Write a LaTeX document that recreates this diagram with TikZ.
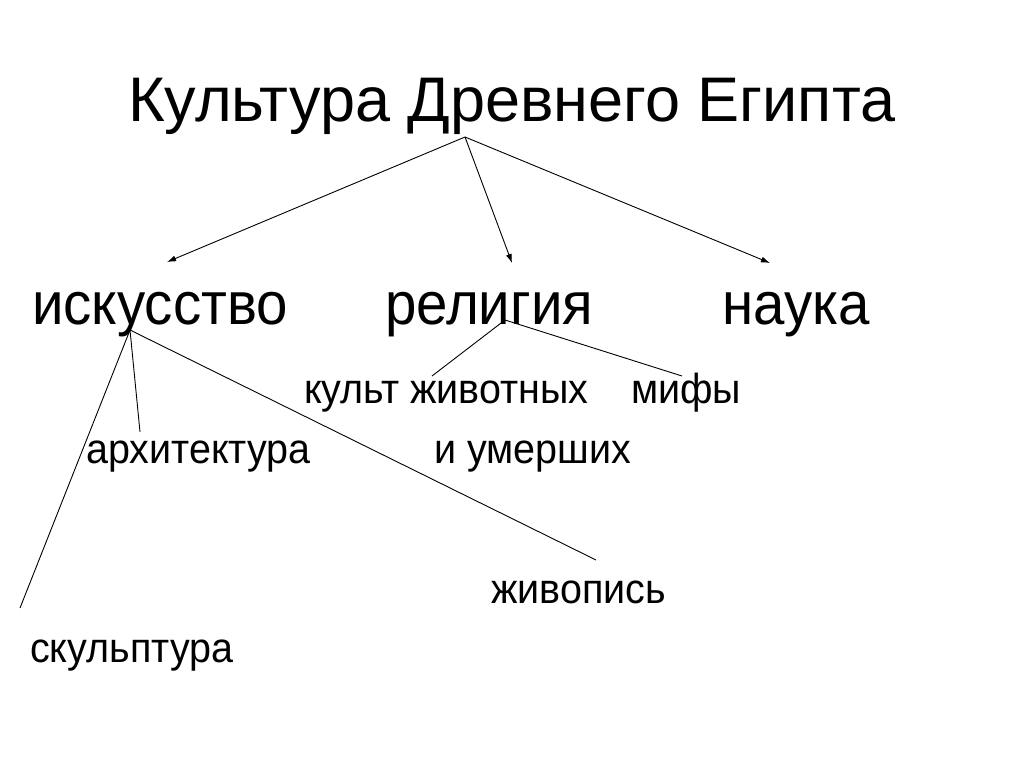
\documentclass[tikz,border=0pt]{standalone}
\usepackage{fontspec}
\setmainfont{Liberation Sans}
\newfontfamily\narrowsans[FakeStretch=0.94]{Liberation Sans}
\usetikzlibrary{arrows.meta}
\begin{document}
\begin{tikzpicture}[x=1pt,y=-1pt]
 \tikzset{directed/.style={-{Latex[length=9pt,width=6pt]}}}
 \tikzset{word/.style={anchor=base west, inner sep=0pt}}
 \tikzset{bigword/.style={word, font=\narrowsans\fontsize{60}{66}\selectfont}}
 \tikzset{smallword/.style={word, font=\narrowsans\fontsize{42}{48}\selectfont}}
  \useasboundingbox (0,0) rectangle (1024,768);
  \node[word, font=\fontsize{63}{70}\selectfont] (title) at (128,121) {Культура Древнего Египта};
  \node[bigword] (art) at (32,324) {искусство};
  \node[bigword] (rel) at (385,324) {религия};
  \node[bigword] (sci) at (722,324) {наука};
  \node[smallword] (cult) at (304,403) {культ животных};
  \node[smallword] (cult2) at (434,463) {и умерших};
  \node[smallword] (myth) at (631,403) {мифы};
  \node[smallword] (arch) at (86,463) {архитектура};
  \node[smallword] (paint) at (491,603) {живопись};
  \node[smallword] (sculp) at (30,662) {скульптура};
  % line ends
  \coordinate (T) at (465,137);
  \coordinate (A) at (130,330);
  \coordinate (R) at (505,320);
  \coordinate (artT) at (167,262);
  \coordinate (relT) at (512,263);
  \coordinate (sciT) at (770,263);
  \coordinate (archT) at (140,432);
  \coordinate (sculpT) at (20,608);
  \coordinate (paintT) at (596,560);
  \coordinate (cultT) at (432,376);
  \coordinate (mythT) at (682,376);
  \draw[directed, line width=0.9pt] (T) -- (artT);
  \draw[directed, line width=0.9pt] (T) -- (relT);
  \draw[directed, line width=0.9pt] (T) -- (sciT);
  \draw[line width=0.9pt] (A) -- (archT);
  \draw[line width=0.9pt] (A) -- (sculpT);
  \draw[line width=0.9pt] (A) -- (paintT);
  \draw[line width=0.9pt] (R) -- (cultT);
  \draw[line width=0.9pt] (R) -- (mythT);
\end{tikzpicture}
\end{document}
